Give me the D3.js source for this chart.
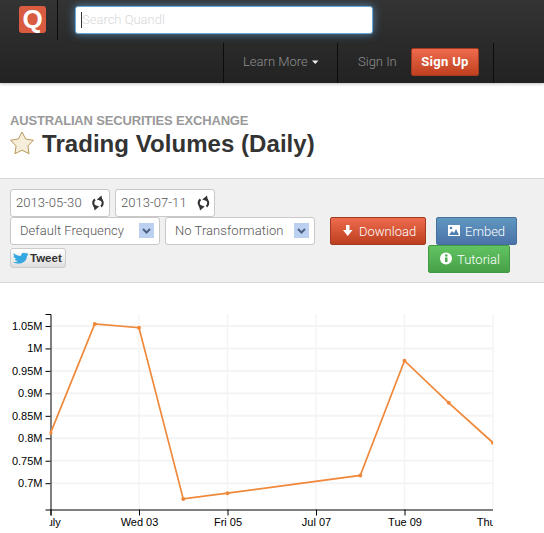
<!DOCTYPE html>
<html>
<head>
<meta charset="utf-8">
<script src="https://cdn.jsdelivr.net/npm/d3@7"></script>
<style>
  html, body { margin: 0; padding: 0; background: #fff; overflow: hidden; }
  #page { position: relative; width: 544px; height: 533px; overflow: hidden; font-family: Roboto, sans-serif; }
  #page div { position: absolute; box-sizing: border-box; white-space: nowrap; }
  .nav { left: 0; top: 0; width: 544px; height: 83px; background: linear-gradient(#343434, #222); box-shadow: 0 1px 3px rgba(0,0,0,.25); }
  .rule { width: 1px; background: #0c0c0c; }
  .navtext { color: #8f8f8f; font-size: 13px; font-weight: 300; line-height: 20px; }
  .box { background: #fff; border: 1px solid #c8c8c8; border-radius: 3px; color: #555; font-size: 13px; line-height: 26px; font-weight: 300; letter-spacing: .05px; }
  .btn { color: #fff; border-radius: 2px; font-size: 13px; line-height: 27px; font-weight: 300; text-align: left; }
  svg { position: absolute; left: 0; top: 0; }
  #chart text { font-family: "Liberation Sans", Arial, sans-serif; font-size: 11px; fill: #000; }
</style>
</head>
<body>
<div id="page"></div>
<script>
const dates = ["2013-07-01", "2013-07-02", "2013-07-03", "2013-07-04", "2013-07-05", "2013-07-08", "2013-07-09", "2013-07-10", "2013-07-11"];
const volumes = [811500, 1054400, 1046200, 665000, 677700, 717200, 972700, 879000, 790000];
const xTickDates = ["2013-07-01", "2013-07-03", "2013-07-05", "2013-07-07", "2013-07-09", "2013-07-11"];
const xTickLabels = ["July", "Wed 03", "Fri 05", "Jul 07", "Tue 09", "Thu 11"];
const yTicks = [700000, 750000, 800000, 850000, 900000, 950000, 1000000, 1050000];
const yTickLabels = ["0.7M", "0.75M", "0.8M", "0.85M", "0.9M", "0.95M", "1M", "1.05M"];

const parseDate = d3.timeParse("%Y-%m-%d");
const page = d3.select("#page");

const addDiv = (cls, x, y, w, h, text) =>
  page
    .append("div")
    .attr("class", cls)
    .style("left", x + "px")
    .style("top", y + "px")
    .style("width", w + "px")
    .style("height", h + "px")
    .text(text || "");

// navbar
addDiv("nav", 0, 0, 544, 83);
addDiv("rule", 57, 0, 1, 40);
addDiv("rule", 223, 43, 1, 40);
addDiv("rule", 337, 43, 1, 40);
addDiv("rule", 493, 43, 1, 40);
addDiv("", 19, 6, 27, 27)
  .style("background", "#d95c41")
  .style("border-radius", "3px")
  .style("color", "#fff")
  .style("font", "bold 26px/26px 'Liberation Sans'")
  .style("text-align", "center")
  .text("Q");
addDiv("", 75, 6, 298, 28)
  .style("background", "#fff")
  .style("border", "1px solid #6aa8dc")
  .style("border-radius", "3px")
  .style("box-shadow", "0 0 8px rgba(100,170,230,.7)")
  .style("color", "#d8d8d8")
  .style("font-size", "13px")
  .style("font-weight", "300")
  .style("line-height", "26px")
  .style("padding-left", "6px")
  .text("Search Quandl");
addDiv("", 81, 12, 1, 16).style("background", "#333");
addDiv("navtext", 243, 52, 70, 20, "Learn More");
addDiv("navtext", 358, 52, 50, 20, "Sign In");
addDiv("", 411, 48, 68, 28, "Sign Up")
  .style("background", "linear-gradient(#ee6c4d, #bf3f1f)")
  .style("border", "1px solid #a33a20")
  .style("border-radius", "2px")
  .style("color", "#fff")
  .style("font", "bold 13px/26px Roboto")
  .style("letter-spacing", ".3px")
  .style("text-align", "center");

// heading
addDiv("", 10, 112, 260, 18, "AUSTRALIAN SECURITIES EXCHANGE")
  .style("color", "#999")
  .style("font", "bold 13px/18px 'Liberation Sans'")
  .style("letter-spacing", "-.17px");
addDiv("", 42, 128, 300, 32, "Trading Volumes (Daily)")
  .style("color", "#333")
  .style("font", "bold 24px/32px 'Liberation Sans'")
  .style("letter-spacing", ".05px");

// control band
addDiv("", 0, 178, 544, 105)
  .style("background", "#f0f0f0")
  .style("border-top", "1px solid #d8d8d8")
  .style("border-bottom", "1px solid #d8d8d8");
addDiv("box", 10, 189, 100, 28, "2013-05-30").style("padding-left", "5px");
addDiv("box", 115, 189, 100, 28, "2013-07-11").style("padding-left", "5px");
addDiv("box", 10, 217, 150, 28, "Default Frequency").style("padding-left", "9px");
addDiv("box", 165, 217, 150, 28, "No Transformation").style("padding-left", "9px");
addDiv("", 10, 248, 56, 20, "Tweet")
  .style("background", "linear-gradient(#fff, #dedede)")
  .style("border", "1px solid #ccc")
  .style("border-radius", "3px")
  .style("color", "#333")
  .style("font", "bold 11.500px/18px 'Liberation Sans'")
  .style("padding-left", "19px");
addDiv("btn", 330, 217, 96, 28, "Download")
  .style("background", "linear-gradient(#ee6c4d, #bc3f20)")
  .style("border", "1px solid #a33a20")
  .style("padding-left", "28px");
addDiv("btn", 436, 217, 81, 28, "Embed")
  .style("background", "linear-gradient(#5f97c0, #4c73a8)")
  .style("border", "1px solid #46709c")
  .style("padding-left", "28px");
addDiv("btn", 428, 245, 82, 28, "Tutorial")
  .style("background", "linear-gradient(#62c462, #47a047)")
  .style("border", "1px solid #449944")
  .style("padding-left", "28px");

// icons
const icons = page.append("svg").attr("width", 544).attr("height", 533);

// favourite star, fatter than d3.symbolStar
const starPoints = d3.range(10).map((i) => [(i * Math.PI) / 5, i % 2 ? 6.200 : 12]);
icons
  .append("path")
  .attr("d", d3.lineRadial().curve(d3.curveLinearClosed)(starPoints))
  .attr("transform", "translate(22,144)")
  .attr("fill", "#f6eeda")
  .attr("stroke", "#b99a5c")
  .attr("stroke-width", 1)
  .attr("stroke-linejoin", "round");

const refreshArc = d3.arc().innerRadius(3.700).outerRadius(5.800);
[98, 203.500].forEach((cx) => {
  [0.35, Math.PI + 0.35].forEach((a) => {
    const group = icons.append("g").attr("transform", `translate(${cx},203)`);
    group
      .append("path")
      .attr("d", refreshArc({ startAngle: a, endAngle: a + 2.1 }))
      .attr("fill", "#333");
    const tip = d3.pointRadial(a + 0.15, 4.750);
    const dir = a + Math.PI / 2;
    group
      .append("path")
      .attr("d", d3.symbol(d3.symbolTriangle, 16))
      .attr("transform", `translate(${tip[0]},${tip[1]}) rotate(${((dir + Math.PI) * 180) / Math.PI + 90})`)
      .attr("fill", "#333");
  });
});

[[146.500, 230.500], [301.500, 230.500]].forEach(([cx, cy]) => {
  icons
    .append("rect")
    .attr("x", cx - 7.500)
    .attr("y", cy - 7.500)
    .attr("width", 15)
    .attr("height", 15)
    .attr("fill", "#bcd0f2");
  icons
    .append("path")
    .attr("d", `M${cx - 3.500},${cy - 1.500}L${cx},${cy + 2}L${cx + 3.500},${cy - 1.500}`)
    .attr("fill", "none")
    .attr("stroke", "#4d6185")
    .attr("stroke-width", 2);
});

// tweet bird
icons
  .append("path")
  .attr("d", "M13,253c3,2 5,3 8,3c0,-3 3,-4 5,-2.500l2,-1l-1,2l2,-.500l-2,2c0,6 -7,10 -14,6c2,0 4,0 5,-1c-2,0 -3,-1 -3,-2h1.500c-2,-1 -3,-2 -3,-3.500l1.500,.500c-1.500,-1 -2,-2 -1.500,-3z")
  .attr("fill", "#35a7e0");

// learn more caret
icons.append("path").attr("d", "M312,60.500h6.500l-3.250,3.500z").attr("fill", "#eee");

// download arrow
icons.append("path").attr("d", "M346,225h3.500v5h3l-4.750,6l-4.750,-6h3z").attr("fill", "#fff");

// embed picture
icons.append("rect").attr("x", 448).attr("y", 225).attr("width", 12).attr("height", 11).attr("fill", "#fff");
icons.append("path").attr("d", "M449,235l3,-4l2,2l2,-4l3,6z").attr("fill", "#4f7db0");
icons.append("circle").attr("cx", 451).attr("cy", 228).attr("r", 1.300).attr("fill", "#4f7db0");

// tutorial info
icons.append("circle").attr("cx", 446).attr("cy", 258.500).attr("r", 6).attr("fill", "#fff");
icons.append("rect").attr("x", 445).attr("y", 257.500).attr("width", 2.500).attr("height", 4.500).attr("fill", "#4eac4e");
icons.append("rect").attr("x", 445).attr("y", 254.500).attr("width", 2.500).attr("height", 2).attr("fill", "#4eac4e");

// chart
const margin = { left: 50.5, right: 493, top: 314, bottom: 509.5 };

const svg = page.append("svg").attr("id", "chart").attr("width", 544).attr("height", 533);

const xScale = d3
  .scaleTime()
  .domain([parseDate("2013-07-01"), parseDate("2013-07-11")])
  .range([margin.left, margin.right]);

const yScale = d3
  .scaleLinear()
  .domain([641400, 1076700])
  .range([margin.bottom, margin.top]);

svg
  .append("defs")
  .append("clipPath")
  .attr("id", "plot-clip")
  .append("rect")
  .attr("x", margin.left - 1)
  .attr("y", 300)
  .attr("width", margin.right - margin.left + 1)
  .attr("height", 233);

// grid
svg
  .append("g")
  .selectAll("line")
  .data(yTicks)
  .enter()
  .append("line")
  .attr("x1", margin.left)
  .attr("x2", margin.right)
  .attr("y1", (d) => yScale(d))
  .attr("y2", (d) => yScale(d))
  .attr("stroke", "#f4f4f4")
  .attr("stroke-width", 2);

svg
  .append("g")
  .selectAll("line")
  .data(xTickDates.slice(1))
  .enter()
  .append("line")
  .attr("x1", (d) => xScale(parseDate(d)))
  .attr("x2", (d) => xScale(parseDate(d)))
  .attr("y1", margin.top)
  .attr("y2", margin.bottom)
  .attr("stroke", "#f4f4f4")
  .attr("stroke-width", 1.500);

// axes
const xAxis = d3
  .axisBottom(xScale)
  .tickValues(xTickDates.map(parseDate))
  .tickSizeOuter(0)
  .tickSize(6)
  .tickPadding(3)
  .tickFormat((d, i) => xTickLabels[i]);

const yAxis = d3
  .axisLeft(yScale)
  .tickValues(yTicks)
  .tickSizeOuter(0)
  .tickSize(5)
  .tickPadding(3)
  .tickFormat((d, i) => yTickLabels[i]);

svg
  .append("g")
  .attr("clip-path", "url(#plot-clip)")
  .append("g")
  .attr("class", "x-axis")
  .attr("transform", `translate(0, ${margin.bottom})`)
  .call(xAxis);

svg
  .append("g")
  .attr("class", "y-axis")
  .attr("transform", `translate(${margin.left}, 0)`)
  .call(yAxis);

// series
const series = dates.map((d, i) => ({ date: parseDate(d), value: volumes[i] }));

const line = d3
  .line()
  .x((d) => xScale(d.date))
  .y((d) => yScale(d.value));

const plot = svg.append("g").attr("clip-path", "url(#plot-clip)");

plot
  .append("path")
  .datum(series)
  .attr("d", line)
  .attr("fill", "none")
  .attr("stroke", "#f0883a")
  .attr("stroke-width", 1.700);

plot
  .selectAll("circle")
  .data(series)
  .enter()
  .append("circle")
  .attr("cx", (d) => xScale(d.date))
  .attr("cy", (d) => yScale(d.value))
  .attr("r", 2)
  .attr("fill", "#f0883a");
</script>
</body>
</html>
